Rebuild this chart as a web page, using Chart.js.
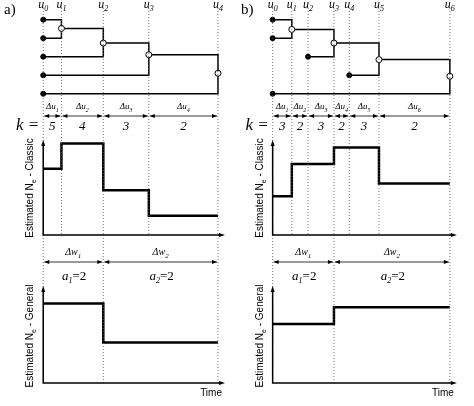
<!DOCTYPE html>
<html><head><meta charset="utf-8">
<script src="https://cdn.jsdelivr.net/npm/chart.js@4"></script>
<style>
body{margin:0;background:#fff;width:474px;height:406px;overflow:hidden}
.p{position:absolute;top:0;width:237px;height:406px}
</style></head><body>
<div class="p" style="left:0"><canvas id="ca"></canvas></div>
<div class="p" style="left:237px"><canvas id="cb"></canvas></div>
<script>
// Panel a data
const uA = [0, 1, 3.3, 5.8, 9.6]
const kA = [5, 4, 3, 2]
const neClassicA = [67, 93, 45, 19]
const wA = [0, 3.3, 9.6]
const aA = [2, 2]
const neGeneralA = [77, 37]
const leavesA = [[0, 15], [0, 34], [0, 53], [0, 72], [0, 91]]
const mergesA = [[1, 0, 1, 24], [2, 5, 2, 39], [3, 6, 3, 51], [4, 7, 4, 70]]
// Panel b data
const uB = [0, 1, 1.85, 3.2, 4.0, 5.55, 9.25]
const kB = [3, 2, 3, 2, 3, 2]
const neClassicB = [39, 72, 72, 89, 89, 52]
const wB = [0, 3.2, 9.25]
const aB = [2, 2]
const neGeneralB = [56, 73]
const leavesB = [[0, 15], [0, 34], [2, 53], [4, 72], [0, 91]]
const mergesB = [[1, 0, 1, 25], [3, 5, 2, 39], [5, 6, 3, 56], [6, 7, 4, 73]]

const CLASSIC_BASE = 235, GENERAL_BASE = 383

function stepData(xs, vals, base) {
    const d = vals.map((v, i) => ({x: xs[i], y: base - v}))
    d.push({x: xs[xs.length - 1], y: base - vals[vals.length - 1]})
    return d
}

function treeSets(u, leaves, merges) {
    const sets = []
    const lin = leaves.map(l => ({t: u[l[0]], y: l[1]}))
    const dots = leaves.map(l => ({x: u[l[0]], y: l[1]}))
    const nodes = []
    merges.forEach(m => {
        const t = u[m[0]], a = lin[m[1]], b = lin[m[2]]
        sets.push([{x: a.t, y: a.y}, {x: t, y: a.y}, {x: t, y: b.y}, {x: b.t, y: b.y}])
        lin.push({t: t, y: m[3]})
        nodes.push({x: t, y: m[3]})
    })
    const ds = sets.map(s => ({type: 'line', data: s, borderColor: '#000', borderWidth: 1.5, pointRadius: 0, tension: 0, order: 5}))
    ds.push({type: 'scatter', data: dots, pointRadius: 2.5, backgroundColor: '#000', borderColor: '#000', order: 1})
    ds.push({type: 'scatter', data: nodes, pointRadius: 3, backgroundColor: '#fff', borderColor: '#000', borderWidth: 1, order: 0})
    return ds
}

function arrowH(ctx, x1, x2, y) {
    ctx.beginPath(); ctx.moveTo(x1, y); ctx.lineTo(x2, y); ctx.stroke()
    ctx.beginPath(); ctx.moveTo(x1, y); ctx.lineTo(x1 + 5, y - 2); ctx.lineTo(x1 + 5, y + 2); ctx.fill()
    ctx.beginPath(); ctx.moveTo(x2, y); ctx.lineTo(x2 - 5, y - 2); ctx.lineTo(x2 - 5, y + 2); ctx.fill()
}

function subText(ctx, x, y, base, sub, size) {
    ctx.font = 'italic ' + size + 'px "Liberation Serif"'
    const w1 = ctx.measureText(base).width
    ctx.font = 'italic ' + Math.round(size * 0.65) + 'px "Liberation Serif"'
    const w2 = ctx.measureText(sub).width
    const x0 = x - (w1 + w2) / 2
    ctx.textAlign = 'left'
    ctx.font = 'italic ' + size + 'px "Liberation Serif"'
    ctx.fillText(base, x0, y)
    ctx.font = 'italic ' + Math.round(size * 0.65) + 'px "Liberation Serif"'
    ctx.fillText(sub, x0 + w1, y + 3)
    return x0 + w1 + w2
}

function makeDecor(label, u, k, w, a) {
    return {
        id: 'decor',
        afterDatasetsDraw(chart) {
            const ctx = chart.ctx, sx = chart.scales.x
            const px = v => sx.getPixelForValue(v)
            ctx.save()
            ctx.fillStyle = '#000'; ctx.strokeStyle = '#000'
            ctx.textBaseline = 'alphabetic'
            // dotted guides
            ctx.setLineDash([1, 2]); ctx.lineWidth = 0.8; ctx.strokeStyle = '#555'
            u.forEach(t => { ctx.beginPath(); ctx.moveTo(px(t), 8); ctx.lineTo(px(t), CLASSIC_BASE); ctx.stroke() })
            w.forEach(t => { ctx.beginPath(); ctx.moveTo(px(t), CLASSIC_BASE); ctx.lineTo(px(t), GENERAL_BASE); ctx.stroke() })
            ctx.setLineDash([]); ctx.strokeStyle = '#000'
            // panel label
            ctx.font = '15px "Liberation Serif"'; ctx.textAlign = 'left'
            ctx.fillText(label, 4, 14)
            // u labels
            u.forEach((t, i) => subText(ctx, px(t), 8, 'u', String(i), 12))
            // delta u arrows + k
            ctx.lineWidth = 0.8
            for (let i = 0; i < k.length; i++) {
                const x1 = px(u[i]), x2 = px(u[i + 1]), m = (x1 + x2) / 2
                arrowH(ctx, x1 + 1, x2 - 1, 116)
                subText(ctx, m, 109, 'Δu', String(i + 1), 9)
                ctx.font = 'italic 13px "Liberation Serif"'; ctx.textAlign = 'center'
                ctx.fillText(String(k[i]), m, 130)
            }
            ctx.font = 'italic 17px "Liberation Serif"'; ctx.textAlign = 'right'
            ctx.fillText('k =', px(u[0]) - 4, 130)
            // delta w arrows + a
            for (let i = 0; i < a.length; i++) {
                const x1 = px(w[i]), x2 = px(w[i + 1]), m = (x1 + x2) / 2
                arrowH(ctx, x1 + 1, x2 - 1, 262)
                subText(ctx, m, 255, 'Δw', String(i + 1), 10)
                const e = subText(ctx, m - 6, 280, 'a', String(i + 1), 13)
                ctx.font = '13px "Liberation Serif"'; ctx.textAlign = 'left'
                ctx.fillText('=' + a[i], e, 280)
            }
            // axes
            const x0 = px(u[0]), xe = px(u[u.length - 1]) + 4
            ctx.lineWidth = 1.5
            ;[[CLASSIC_BASE, 140], [GENERAL_BASE, 286]].forEach(([b, top]) => {
                ctx.beginPath(); ctx.moveTo(x0, top + 3); ctx.lineTo(x0, b); ctx.lineTo(xe, b); ctx.stroke()
                ctx.beginPath(); ctx.moveTo(x0, top); ctx.lineTo(x0 - 2, top + 6); ctx.lineTo(x0 + 2, top + 6); ctx.fill()
                ctx.beginPath(); ctx.moveTo(xe + 3, b); ctx.lineTo(xe - 3, b - 2); ctx.lineTo(xe - 3, b + 2); ctx.fill()
            })
            ctx.font = '10px "Liberation Sans"'; ctx.textAlign = 'right'
            ctx.fillText('Time', xe, 396)
            // y titles
            const yTitle = (txt, cy) => {
                ctx.save(); ctx.translate(x0 - 10, cy); ctx.rotate(-Math.PI / 2)
                const parts = [['Estimated N', 0], ['e', 3], [txt, 0]]
                const size = [10, 7, 10]
                let tw = 0
                parts.forEach((p, i) => { ctx.font = size[i] + 'px "Liberation Sans"'; tw += ctx.measureText(p[0]).width })
                let xx = -tw / 2
                ctx.textAlign = 'left'
                parts.forEach((p, i) => { ctx.font = size[i] + 'px "Liberation Sans"'; ctx.fillText(p[0], xx, p[1]); xx += ctx.measureText(p[0]).width })
                ctx.restore()
            }
            yTitle(' - Classic', 188)
            yTitle(' - General', 336)
            ctx.restore()
        }
    }
}

function makeChart(id, label, u, k, neC, w, a, neG, leaves, merges, xmin, xmax) {
    const ds = treeSets(u, leaves, merges)
    ds.push({type: 'line', data: stepData(u, neC, CLASSIC_BASE), stepped: 'before', borderColor: '#000', borderWidth: 2.5, pointRadius: 0})
    ds.push({type: 'line', data: stepData(w, neG, GENERAL_BASE), stepped: 'before', borderColor: '#000', borderWidth: 2.5, pointRadius: 0})
    new Chart(document.getElementById(id), {
        type: 'line',
        data: {datasets: ds},
        options: {
            responsive: true, maintainAspectRatio: false, animation: false,
            layout: {padding: 0},
            plugins: {legend: {display: false}, tooltip: {enabled: false}},
            scales: {
                x: {type: 'linear', min: xmin, max: xmax, display: false},
                y: {type: 'linear', min: 0, max: 406, reverse: true, display: false}
            }
        },
        plugins: [makeDecor(label, u, k, w, a)]
    })
}

makeChart('ca', 'a)', uA, kA, neClassicA, wA, aA, neGeneralA, leavesA, mergesA, -2.1, 10.37)
makeChart('cb', 'b)', uB, kB, neClassicB, wB, aB, neGeneralB, leavesB, mergesB, -1.6, 10.25)
</script>
</body></html>
